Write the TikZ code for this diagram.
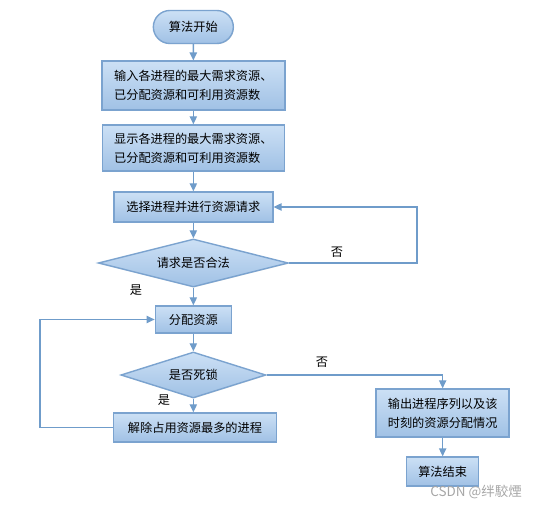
\documentclass[tikz,border=0pt]{standalone}
\usepackage{fontspec}
\setmainfont{Noto Sans CJK SC}
\usetikzlibrary{arrows.meta,shapes.geometric,shapes.misc,shadows}

\definecolor{boxline}{HTML}{7BA3CF}
\definecolor{boxtop}{HTML}{CCE0F5}
\definecolor{boxbottom}{HTML}{A0C1E5}
\definecolor{flowline}{HTML}{6F9CCA}

\begin{document}
\begin{tikzpicture}
    % 统一的框和连线样式
    [base_box/.style={draw=boxline, line width=1.2pt, top color=boxtop, bottom color=boxbottom,
        drop shadow={opacity=0.2, shadow xshift=0.6pt, shadow yshift=-0.6pt},
        inner sep=0pt, font=\fontsize{10.4}{16}\selectfont},
    proc_box/.style={base_box, rectangle, align=left},
    begin_box/.style={base_box, rounded rectangle},
    judge_box/.style={base_box, diamond, aspect=4},
    flow_line/.style={draw=flowline, line width=1.2pt, -{Triangle[length=2.4mm, width=2.2mm]}},
    branch_label/.style={font=\fontsize{10.4}{13}\selectfont}]
    \useasboundingbox (0, 0) rectangle (16.14, 15.27);
    % 主流程
    \node[begin_box, minimum width=2.4cm, minimum height=0.99cm] (start) at (5.8, 14.46) {算法开始};
    \node[proc_box, minimum width=5.49cm, minimum height=1.47cm] (input) at (5.8, 12.7)
        {输入各进程的最大需求资源、\\已分配资源和可利用资源数};
    \node[proc_box, minimum width=5.46cm, minimum height=1.38cm] (show) at (5.8, 10.83)
        {显示各进程的最大需求资源、\\已分配资源和可利用资源数};
    \node[proc_box, minimum width=4.77cm, minimum height=0.9cm] (select) at (5.8, 9.06) {选择进程并进行资源请求};
    \node[judge_box, minimum width=5.7cm, minimum height=1.44cm] (legal) at (5.8, 7.38) {请求是否合法};
    \node[proc_box, minimum width=2.28cm, minimum height=0.81cm] (alloc) at (5.8, 5.685) {分配资源};
    \node[judge_box, minimum width=4.35cm, minimum height=1.38cm] (dead) at (5.8, 4.02) {是否死锁};
    \node[proc_box, minimum width=4.89cm, minimum height=0.87cm] (release) at (5.85, 2.445) {解除占用资源最多的进程};
    % 右侧输出
    \node[proc_box, minimum width=3.99cm, minimum height=1.44cm] (output) at (13.28, 2.88)
        {输出进程序列以及该\\时刻的资源分配情况};
    \node[proc_box, minimum width=2.16cm, minimum height=0.87cm] (finish) at (13.28, 1.125) {算法结束};
    % 连线
    \draw[flow_line] (start) -- (input);
    \draw[flow_line] (input) -- (show);
    \draw[flow_line] (show) -- (select);
    \draw[flow_line] (select) -- (legal);
    \draw[flow_line] (legal) -- (alloc);
    \draw[flow_line] (alloc) -- (dead);
    \draw[flow_line] (dead) -- (release.north -| dead);
    \draw[flow_line] (output) -- (finish);
    % 回路
    \coordinate (loop_r) at (12.51, 7.38);
    \coordinate (loop_l) at (1.2, 2.445);
    \draw[flow_line] (legal.east) -- (loop_r) |- (select.east);
    \draw[flow_line] (release.west) -- (loop_l) |- (alloc.west);
    \draw[flow_line] (dead.east) -| (output.north);
    % 分支标签
    \node[branch_label] (no_a) at (10.11, 7.71) {否};
    \node[branch_label] (yes_a) at (4.08, 6.57) {是};
    \node[branch_label] (no_b) at (9.66, 4.41) {否};
    \node[branch_label] (yes_b) at (4.92, 3.27) {是};
    \node[text=black!35, font=\fontsize{11.5}{13}\selectfont] (mark) at (14.28, 0.5) {CSDN @绊駮煙};
\end{tikzpicture}
\end{document}
